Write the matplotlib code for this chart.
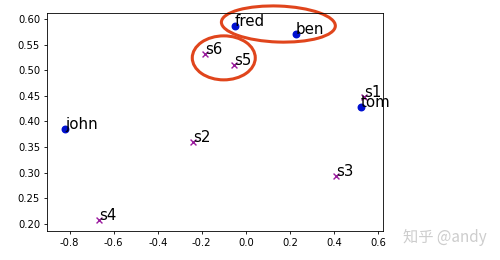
import matplotlib
matplotlib.use('Agg')
import matplotlib.pyplot as plt
from matplotlib.patches import Ellipse
from matplotlib.transforms import ScaledTranslation

# people (blue dots) and samples (purple crosses)
names = ['john', 'fred', 'ben', 'tom']
names_x = [-0.821, -0.050, 0.227, 0.523]
names_y = [0.385, 0.586, 0.570, 0.428]

samples = ['s1', 's2', 's3', 's4', 's5', 's6']
samples_x = [0.538, -0.240, 0.409, -0.668, -0.053, -0.186]
samples_y = [0.447, 0.359, 0.294, 0.207, 0.510, 0.532]

xticks = [-0.8, -0.6, -0.4, -0.2, 0.0, 0.2, 0.4, 0.6]
yticks = [0.20, 0.25, 0.30, 0.35, 0.40, 0.45, 0.50, 0.55, 0.60]

fig = plt.figure(figsize=(5, 2.6), dpi=100)
ax = fig.add_axes([0.094, 0.113, 0.671, 0.836])

ax.scatter(names_x, names_y, s=22, c='#0010d0', marker='o')
ax.scatter(samples_x, samples_y, s=18, c='#9a1a9e', marker='x', linewidths=1.0)
for n, x, y in zip(names, names_x, names_y):
    ax.text(x, y, n, fontsize=10.8)
for n, x, y in zip(samples, samples_x, samples_y):
    ax.text(x, y, n, fontsize=10.8)

ax.set_xlim(-0.903, 0.621)
ax.set_ylim(0.187, 0.611)
ax.set_xticks(xticks)
ax.set_xticklabels(['%.1f' % v for v in xticks])
ax.set_yticks(yticks)
ax.set_yticklabels(['%.2f' % v for v in yticks])
ax.tick_params(labelsize=7.2, length=2.5, width=0.6, pad=2.5)
for sp in ax.spines.values():
    sp.set_linewidth(0.6)

# hand drawn rings round the two groups (centre in data units, size in inches)
rings = [((0.148, 0.590), 1.14, 0.36, -2), ((-0.10, 0.524), 0.63, 0.44, 0)]
for (cx, cy), w, hgt, ang in rings:
    tr = fig.dpi_scale_trans + ScaledTranslation(cx, cy, ax.transData)
    e = Ellipse((0, 0), w, hgt, angle=ang, transform=tr, fill=False,
                edgecolor='#e0451c', linewidth=2.2, clip_on=False)
    ax.add_artist(e)

fig.text(0.806, 0.088, '知乎 @andy', fontsize=11, color='#cdcdcd',
         family=['Noto Sans CJK SC', 'DejaVu Sans'], va='center')

fig.savefig('out.png', dpi=100)
